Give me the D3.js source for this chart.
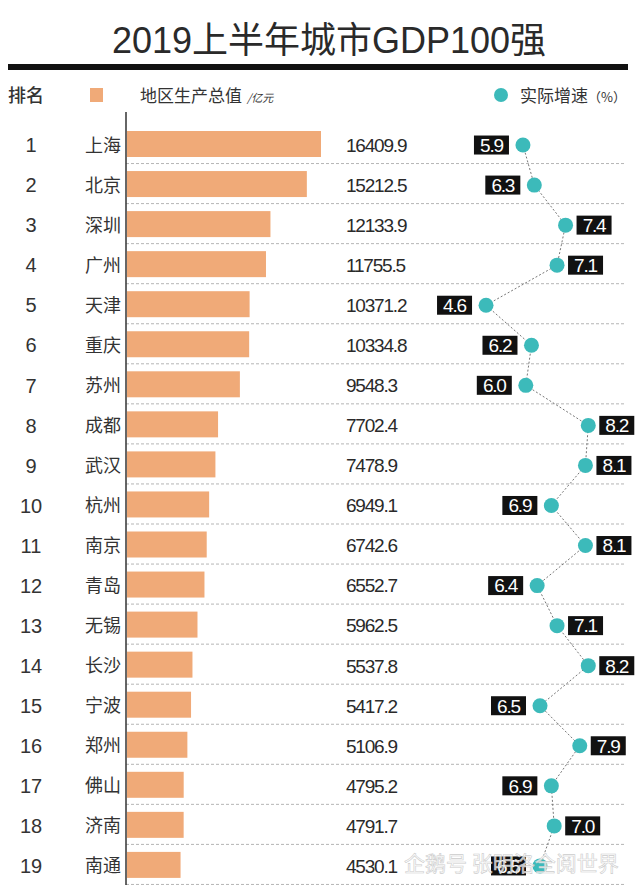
<!DOCTYPE html>
<html>
<head>
<meta charset="utf-8">
<script src="https://cdn.jsdelivr.net/npm/d3@7"></script>
<style>
  body { margin: 0; background: #fff; }
  svg { display: block; }
</style>
</head>
<body>
<div id="chart"></div>
<script>
// 2019上半年城市GDP100强 (前19名)
const ranks = [1, 2, 3, 4, 5, 6, 7, 8, 9, 10, 11, 12, 13, 14, 15, 16, 17, 18, 19];
const cities = ['上海', '北京', '深圳', '广州', '天津', '重庆', '苏州', '成都', '武汉', '杭州',
  '南京', '青岛', '无锡', '长沙', '宁波', '郑州', '佛山', '济南', '南通'];
const gdp = [16409.9, 15212.5, 12133.9, 11755.5, 10371.2, 10334.8, 9548.3, 7702.4, 7478.9, 6949.1,
  6742.6, 6552.7, 5962.5, 5537.8, 5417.2, 5106.9, 4795.2, 4791.7, 4530.1];
const growth = [5.9, 6.3, 7.4, 7.1, 4.6, 6.2, 6.0, 8.2, 8.1, 6.9,
  8.1, 6.4, 7.1, 8.2, 6.5, 7.9, 6.9, 7.0, 6.5];

const width = 636, height = 885;
const cjk = '"Noto Sans CJK SC", "Noto Sans", sans-serif';
const latin = '"Liberation Sans", Arial, sans-serif';
const mixed = '"Liberation Sans", "Noto Sans CJK SC", sans-serif';
const barColor = '#f0aa78';
const teal = '#3cbaba';

const svg = d3.select('#chart').append('svg')
  .attr('width', width)
  .attr('height', height);

// 标题
svg.append('text')
  .attr('x', 329).attr('y', 53)
  .attr('text-anchor', 'middle')
  .attr('font-family', mixed)
  .attr('font-size', 36)
  .attr('fill', '#2a2a2a')
  .text('2019上半年城市GDP100强');

svg.append('rect')
  .attr('x', 8).attr('y', 64).attr('width', 620).attr('height', 6)
  .attr('fill', '#111');

// 图例行
const head = svg.append('g').attr('font-family', cjk).attr('fill', '#333');
head.append('text').attr('x', 8).attr('y', 102).attr('font-size', 18).attr('font-weight', 500).text('排名');
head.append('rect').attr('x', 90).attr('y', 88).attr('width', 13).attr('height', 14).attr('fill', barColor);
const t1 = head.append('text').attr('x', 140).attr('y', 102).attr('font-size', 17);
t1.append('tspan').text('地区生产总值');
t1.append('tspan').attr('dx', 5).attr('font-size', 11).attr('font-style', 'italic').text('/亿元');
head.append('circle').attr('cx', 501).attr('cy', 95).attr('r', 7).attr('fill', teal);
const t2 = head.append('text').attr('x', 520).attr('y', 102).attr('font-size', 17);
t2.append('tspan').text('实际增速');
t2.append('tspan').attr('font-size', 13).text('（%）');

// 比例尺
const y = d3.scaleBand().domain(ranks).range([125, 125 + 40.05 * ranks.length]);
const xBar = d3.scaleLinear().domain([0, 16409.9]).range([127, 321]);
const xDot = d3.scaleLinear().domain([4, 9]).range([469, 611]);

// 分隔虚线
svg.append('g')
  .selectAll('line')
  .data(ranks)
  .join('line')
  .attr('x1', 126).attr('x2', 625)
  .attr('y1', d => y(d) + y.bandwidth() - 1.5)
  .attr('y2', d => y(d) + y.bandwidth() - 1.5)
  .attr('stroke', '#b5b5b5')
  .attr('stroke-width', 1)
  .attr('stroke-dasharray', '3,2');

// 柱子
svg.append('g')
  .selectAll('rect')
  .data(ranks)
  .join('rect')
  .attr('x', xBar(0))
  .attr('y', d => y(d) + 6)
  .attr('width', (d, i) => xBar(gdp[i]) - xBar(0))
  .attr('height', 26)
  .attr('fill', barColor);

svg.append('line')
  .attr('x1', 126).attr('x2', 126).attr('y1', 112).attr('y2', height)
  .attr('stroke', '#333').attr('stroke-width', 1.5);

const cy = d => y(d) + y.bandwidth() / 2;

// 排名 / 城市 / 数值
svg.append('g')
  .selectAll('text')
  .data(ranks)
  .join('text')
  .attr('x', 31).attr('y', cy).attr('dy', '0.36em')
  .attr('text-anchor', 'middle')
  .attr('font-family', latin).attr('font-size', 20).attr('fill', '#333')
  .text(d => d);

svg.append('g')
  .selectAll('text')
  .data(ranks)
  .join('text')
  .attr('x', 121).attr('y', cy).attr('dy', '0.36em')
  .attr('text-anchor', 'end')
  .attr('font-family', cjk).attr('font-size', 18).attr('fill', '#333')
  .text((d, i) => cities[i]);

svg.append('g')
  .selectAll('text')
  .data(ranks)
  .join('text')
  .attr('x', 346).attr('y', cy).attr('dy', '0.36em')
  .attr('font-family', latin).attr('font-size', 19).attr('letter-spacing', -1.2)
  .attr('fill', '#2a2a2a')
  .text((d, i) => gdp[i].toFixed(1));

// 增速折线
const line = d3.line().x((d, i) => xDot(growth[i])).y(d => cy(d));
svg.append('path')
  .datum(ranks)
  .attr('d', line)
  .attr('fill', 'none')
  .attr('stroke', '#777')
  .attr('stroke-width', 1)
  .attr('stroke-dasharray', '2,2');

svg.append('g')
  .selectAll('circle')
  .data(ranks)
  .join('circle')
  .attr('cx', (d, i) => xDot(growth[i]))
  .attr('cy', cy)
  .attr('r', 7.5)
  .attr('fill', teal);

// 增速标签: >=7 在右侧, 否则在左侧
const lab = svg.append('g')
  .selectAll('g')
  .data(ranks)
  .join('g')
  .attr('transform', (d, i) => {
    const x = xDot(growth[i]);
    const lx = growth[i] >= 7 ? x + 11 : x - 14 - 35;
    return `translate(${lx},${cy(d) - 9.5})`;
  });
lab.append('rect').attr('width', 35).attr('height', 19).attr('fill', '#111');
lab.append('text')
  .attr('x', 17.5).attr('y', 9.5).attr('dy', '0.36em')
  .attr('text-anchor', 'middle')
  .attr('font-family', latin).attr('font-size', 19).attr('letter-spacing', -1.2)
  .attr('fill', '#fff')
  .text((d, i) => growth[i].toFixed(1));

// 水印
svg.append('text')
  .attr('x', 404).attr('y', 871)
  .attr('font-family', cjk).attr('font-size', 21)
  .attr('fill', '#fff').attr('fill-opacity', 0.75)
  .attr('stroke', '#ccc').attr('stroke-width', 0.6)
  .text('企鹅号 张明洛全阅世界');
</script>
</body>
</html>
